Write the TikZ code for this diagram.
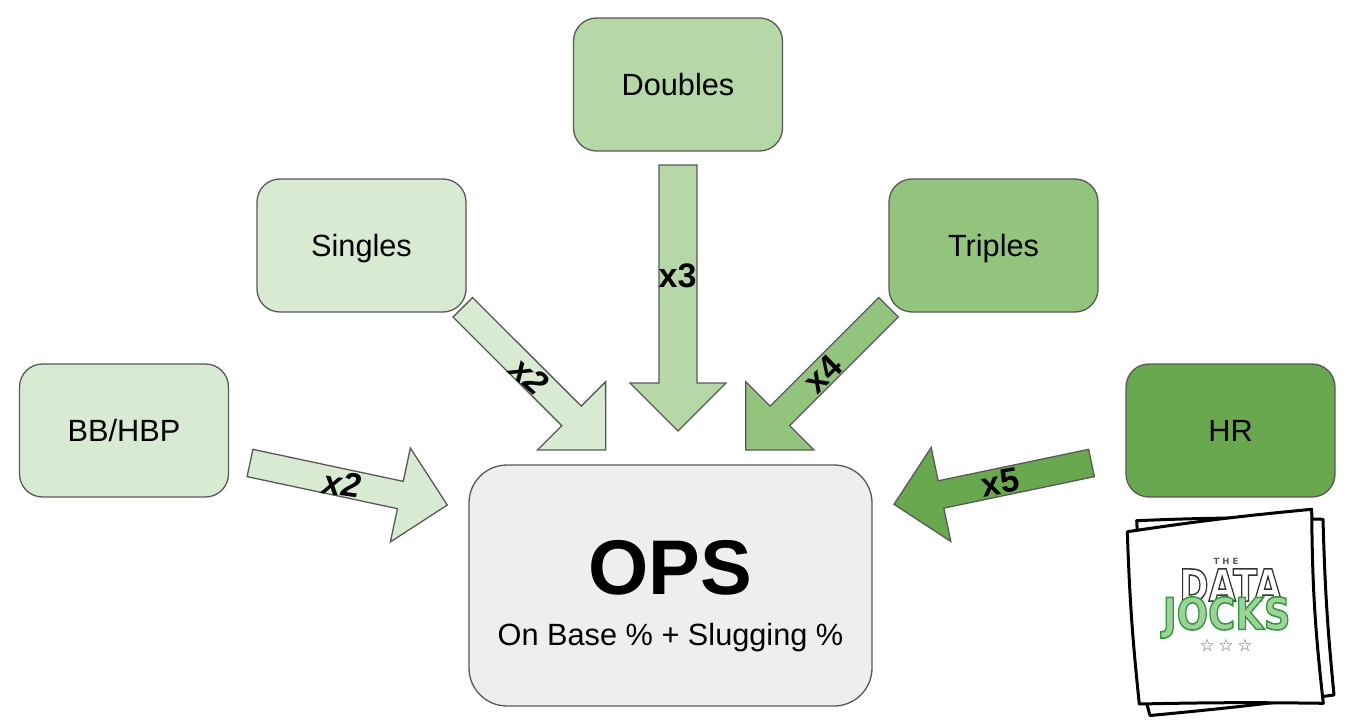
\documentclass[tikz,border=0pt]{standalone}
\usepackage{fontspec}
\setmainfont{Liberation Sans}
\newfontfamily\slabfont{DejaVu Sans}[BoldFont={DejaVu Sans Bold}]
\newfontfamily\symfont{DejaVu Sans}
\usetikzlibrary{calc}
\definecolor{edge}{HTML}{595959}
\definecolor{tintA}{HTML}{D9EAD3}
\definecolor{tintB}{HTML}{B6D7A8}
\definecolor{tintC}{HTML}{93C47D}
\definecolor{tintD}{HTML}{6AA84F}
\definecolor{opsgrey}{HTML}{EEEEEE}
\newcommand{\startstroke}[3]{\special{pdf:code q 2 Tr #3 w #2 RG #1 rg}}
\newcommand{\stopstroke}{\special{pdf:code Q}}
\newcommand{\blockarrow}[6]{%
  \coordinate (hb) at ($(#2)!#5pt!(#1)$);
  \draw[arrowshape,fill=#6]
    ($(#1)!#3pt/2!-90:(#2)$) --
    ($(hb)!#3pt/2!-90:(#2)$) --
    ($(hb)!#4pt/2!-90:(#2)$) --
    (#2) --
    ($(hb)!#4pt/2!90:(#2)$) --
    ($(hb)!#3pt/2!90:(#2)$) --
    ($(#1)!#3pt/2!90:(#2)$) -- cycle;}
\tikzset{
  box/.style={draw=edge,line width=1.3pt,rounded corners=23pt,minimum width=209pt,minimum height=133pt,inner sep=0pt,font=\fontsize{30.7}{36}\selectfont,text=black,text height=21.5pt,text depth=0pt},
  arrowshape/.style={draw=edge,line width=1.3pt,line join=miter},
  mult/.style={inner sep=0pt,font=\fontsize{34}{36}\selectfont\bfseries\itshape,text=black},
  multup/.style={inner sep=0pt,font=\fontsize{34}{36}\selectfont\bfseries,text=black},
  sheet/.style={draw=black,line width=3pt,line join=round,line cap=round,fill=white},
  logostar/.style={inner sep=0pt,font=\fontsize{17}{18}\selectfont\symfont,text=black!60},
}
\begin{document}
\begin{tikzpicture}[x=1pt,y=-1pt]
\useasboundingbox[fill=white] (0,0) rectangle (1356,727);
% boxes
\node[box,fill=tintB] (doubles) at (678,84.5) {Doubles};
\node[box,fill=tintA] (singles) at (361.5,245.5) {Singles};
\node[box,fill=tintC] (triples) at (993.5,245.5) {Triples};
\node[box,fill=tintA] (bbhbp) at (124,430.5) {BB/HBP};
\node[box,fill=tintD] (hr) at (1230.5,430.5) {HR};
\node[box,fill=opsgrey,rounded corners=38pt,minimum width=403pt,minimum height=241pt] (ops) at (670.5,585.5) {};
\node[inner sep=0pt,font=\fontsize{77.5}{80}\selectfont\bfseries] (opstitle) at (670.5,567.5) {OPS};
\node[inner sep=0pt,font=\fontsize{30.7}{36}\selectfont] (opssub) at (670.5,638) {On Base \% + Slugging \%};
% arrow ends
\coordinate (bbt) at (250,463);
\coordinate (bbh) at (447.3,505);
\coordinate (st) at (462.8,307.3);
\coordinate (sh) at (605.7,450);
\coordinate (dt) at (678,165);
\coordinate (dh) at (678,431);
\coordinate (tt) at (888.5,307.3);
\coordinate (th) at (745.7,450);
\coordinate (ht) at (1091.5,463);
\coordinate (hh) at (894,504.3);
\blockarrow{bbt}{bbh}{27.9}{96}{48}{tintA}
\blockarrow{st}{sh}{27.6}{96.5}{48.3}{tintA}
\blockarrow{dt}{dh}{38}{96}{48}{tintB}
\blockarrow{tt}{th}{27.6}{96.5}{48.3}{tintC}
\blockarrow{ht}{hh}{27.9}{96}{48}{tintD}
% multipliers
\node[mult,rotate=-8] (mbb) at (341.7,484) {x2};
\node[mult,rotate=-42] (ms) at (529,376) {x2};
\node[multup] (md) at (677.5,276) {x3};
\node[multup,rotate=45] (mt) at (823,374) {x4};
\node[multup,rotate=10] (mh) at (1000,482.5) {x5};
% logo
\draw[sheet] (1136.7,520.7) to[bend left=2] (1323,519.3) to[bend right=2] (1334,695) to[bend left=1] (1150,715.5) -- (1146,701) -- cycle;
\draw[sheet] (1127.3,531.7) to[bend left=1.5] (1311.7,509.3) to[bend right=3] (1323.3,703.3) to[bend right=1] (1139.3,704) to[bend left=2] cycle;
\node[inner sep=0pt,font=\fontsize{8.5}{9}\selectfont\slabfont\bfseries,text=black!65] (lthe) at (1226,561) {T H E};
\node[inner sep=0pt,xscale=0.8,font=\fontsize{44}{46}\selectfont\slabfont\bfseries] (ldata) at (1230.5,585) {\startstroke{1 1 1}{0.2 0.2 0.2}{1.5}DATA\stopstroke};
\node[inner sep=0pt,xscale=0.84,font=\fontsize{44}{46}\selectfont\slabfont\bfseries] (ljocks) at (1226.7,617.5) {\startstroke{0.62 0.82 0.61}{0.18 0.6 0.21}{1.5}JOCKS\stopstroke};
\node[logostar] (lstar1) at (1207.3,645.7) {☆};
\node[logostar] (lstar2) at (1226,645.7) {☆};
\node[logostar] (lstar3) at (1245,645.7) {☆};
\end{tikzpicture}
\end{document}
